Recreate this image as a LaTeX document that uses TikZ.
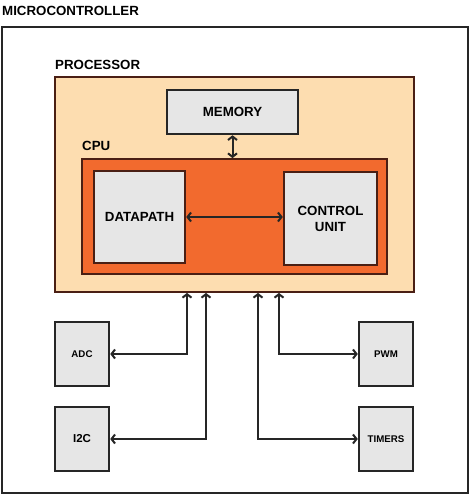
\documentclass[tikz,border=0pt]{standalone}
\usepackage{fontspec}
\setmainfont{Liberation Sans}
\usetikzlibrary{arrows.meta}

\definecolor{peach}{HTML}{FDDDB0}
\definecolor{cpuorange}{HTML}{F26A2E}
\definecolor{darkbrown}{HTML}{4A1F14}
\definecolor{boxgrey}{HTML}{E6E6E6}
\definecolor{edge}{HTML}{262626}

\tikzstyle{unit}=[draw=edge, fill=boxgrey, line width=2.5pt, align=center, font=\bfseries\fontsize{13.3}{16}\selectfont]
\tikzstyle{periph}=[unit, minimum width=54, minimum height=64, font=\bfseries\fontsize{9.7}{12}\selectfont]
\tikzstyle{region}=[draw=darkbrown, line width=1.8pt, inner sep=0pt]
\tikzstyle{caption}=[anchor=west, inner sep=0pt, font=\bfseries\fontsize{13.3}{16}\selectfont]
\tikzstyle{link}=[{Straight Barb[length=3.5pt,width=9pt]}-{Straight Barb[length=3.5pt,width=9pt]}, line width=2pt, draw=edge]

\begin{document}
\begin{tikzpicture}[x=1pt, y=-1pt]
      \useasboundingbox (0,0) rectangle (474,500);
      \node[caption] (mclabel) at (2,11) {MICROCONTROLLER};
      \node[draw=edge, line width=2.5pt, fill=white, inner sep=0pt,
            minimum width=466, minimum height=466] (mcu) at (235,260) {};
      \node[caption] (proclabel) at (55,65) {PROCESSOR};
      \node[region, fill=peach, minimum width=359, minimum height=215] (proc) at (234.5,184.5) {};
      \node[unit, minimum width=131, minimum height=44] (memory) at (232.5,112) {MEMORY};
      \node[caption] (cpulabel) at (82,146) {CPU};
      \node[region, fill=cpuorange, minimum width=305, minimum height=115] (cpu) at (234.5,216.5) {};
      \node[unit, draw=darkbrown, minimum width=91, minimum height=92] (datapath) at (139.5,217) {DATAPATH};
      \node[unit, draw=darkbrown, minimum width=93, minimum height=93] (control) at (330.5,218.5) {CONTROL\\UNIT};
      \node[periph] (adc) at (82,354) {ADC};
      \node[periph, font=\bfseries\fontsize{11.5}{14}\selectfont] (i2c) at (82,439) {I2C};
      \node[periph] (pwm) at (386,354) {PWM};
      \node[periph] (timers) at (386,439) {TIMERS};
      \draw[link] (memory.south) -- (memory.south |- cpu.north);
      \draw[link] (datapath.east) -- (datapath.east -| control.west);
      \foreach \dev/\side/\dx in {adc/east/-47.5, i2c/east/-28.5, timers/west/23.5, pwm/west/44.5} {%
        \draw[link] (\dev.\side) -| ([xshift=\dx]proc.south);
      }
    \end{tikzpicture}
\end{document}
